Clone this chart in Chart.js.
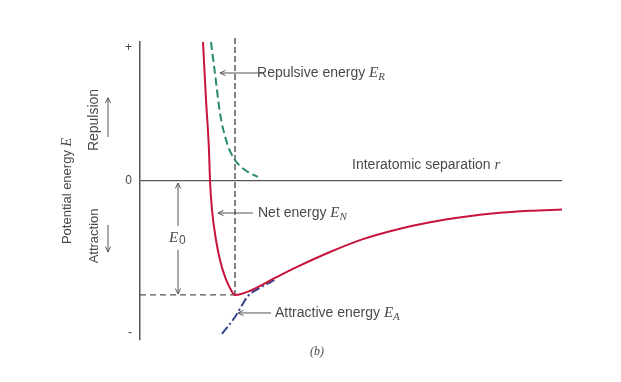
<!DOCTYPE html>
<html>
<head>
<meta charset="utf-8">
<script src="https://cdn.jsdelivr.net/npm/chart.js@4.4.1/dist/chart.umd.min.js"></script>
<style>
  html, body { margin: 0; padding: 0; background: #fff; }
</style>
</head>
<body>
<canvas id="energyChart" width="621" height="382"></canvas>
<script>
// separation r in units of r0, energy E in units of |E0|
const netR = [0.663, 0.695, 0.726, 0.737, 0.758, 0.80, 0.842, 0.895, 0.947, 1.0, 1.179, 1.421, 1.653, 2.0, 2.347, 2.705, 3.053, 3.40, 3.758, 4.105, 4.442];
const netE = [1.219, 0.711, 0.272, 0.0, -0.254, -0.518, -0.693, -0.842, -0.939, -1.0, -0.956, -0.851, -0.754, -0.623, -0.51, -0.425, -0.362, -0.316, -0.282, -0.262, -0.25];

const repR = [0.747, 0.789, 0.842, 0.916, 1.0, 1.105, 1.242];
const repE = [1.219, 0.947, 0.596, 0.333, 0.184, 0.096, 0.035];

const attR = [0.863, 1.0, 1.137, 1.242, 1.421];
const attE = [-1.342, -1.193, -1.009, -0.947, -0.868];

const r0 = 1.0;      // equilibrium spacing
const E0 = -1.0;     // bonding energy
const rMax = 4.442;
const eMin = -1.395;
const eMax = 1.219;
const eTop = 1.254;  // top of the r0 marker

const yTicks = [-1.333, 0, 1.167];
const yTickLabels = ['-', '0', '+'];

const pts = (xs, ys) => xs.map((v, i) => ({x: v, y: ys[i]}));

const SANS = '"Liberation Sans", Arial, sans-serif';
const SERIF = '"Liberation Serif", "Times New Roman", serif';

function arrowHead(ctx, x1, y1, x2, y2) {
    const a = Math.atan2(y2 - y1, x2 - x1);
    const len = 6;
    ctx.beginPath();
    ctx.moveTo(x2 - len * Math.cos(a - 0.45), y2 - len * Math.sin(a - 0.45));
    ctx.lineTo(x2, y2);
    ctx.lineTo(x2 - len * Math.cos(a + 0.45), y2 - len * Math.sin(a + 0.45));
    ctx.stroke();
}

function arrow(ctx, x1, y1, x2, y2) {
    ctx.beginPath();
    ctx.moveTo(x1, y1);
    ctx.lineTo(x2, y2);
    ctx.stroke();
    arrowHead(ctx, x1, y1, x2, y2);
}

// plain text followed by an italic E with optional subscript
function label(ctx, x, y, plain, sym, sub, size) {
    size = size || 14;
    ctx.textAlign = 'left';
    ctx.textBaseline = 'middle';
    ctx.font = size + 'px ' + SANS;
    ctx.fillText(plain, x, y);
    let cx = x + ctx.measureText(plain).width;
    if (sym) {
        ctx.font = 'italic ' + (size + 1) + 'px ' + SERIF;
        ctx.fillText(sym, cx, y);
        cx += ctx.measureText(sym).width;
    }
    if (sub) {
        ctx.font = 'italic ' + (size - 3) + 'px ' + SERIF;
        ctx.fillText(sub, cx, y + 4);
        cx += ctx.measureText(sub).width;
    }
    return cx - x;
}

function labelWidth(ctx, plain, sym, size) {
    ctx.font = size + 'px ' + SANS;
    let w = ctx.measureText(plain).width;
    if (sym) {
        ctx.font = 'italic ' + (size + 1) + 'px ' + SERIF;
        w += ctx.measureText(sym).width;
    }
    return w;
}

const annotations = {
    id: 'annotations',
    afterDatasetsDraw(chart) {
        const {ctx, chartArea} = chart;
        const px = v => chart.scales.x.getPixelForValue(v);
        const py = v => chart.scales.y.getPixelForValue(v);
        ctx.save();
        ctx.strokeStyle = '#555';
        ctx.fillStyle = '#4a4a4a';
        ctx.lineWidth = 1;

        arrow(ctx, px(1.284), py(0.947), px(0.842), py(0.947));
        label(ctx, px(1.232), py(0.947), 'Repulsive energy ', 'E', 'R');

        label(ctx, px(2.232), py(0.14), 'Interatomic separation ', 'r');

        arrow(ctx, px(1.19), py(-0.281), px(0.821), py(-0.281));
        label(ctx, px(1.242), py(-0.281), 'Net energy ', 'E', 'N');

        arrow(ctx, px(1.379), py(-1.158), px(1.032), py(-1.158));
        label(ctx, px(1.421), py(-1.158), 'Attractive energy ', 'E', 'A');

        // E0 double arrow
        const ax = px(0.4);
        const mid = py(-0.5);
        arrow(ctx, ax, mid - 12, ax, py(-0.018));
        arrow(ctx, ax, mid + 12, ax, py(E0) - 1);
        ctx.font = 'italic 15px ' + SERIF;
        ctx.textBaseline = 'middle';
        ctx.textAlign = 'left';
        ctx.fillText('E', ax - 9, mid);
        ctx.font = '12px ' + SANS;
        ctx.fillText('0', ax + 1, mid + 3);

        // (b)
        ctx.font = 'italic 12px ' + SERIF;
        ctx.textAlign = 'center';
        ctx.fillText('(b)', px(1.863), py(-1.5));

        // rotated axis labels
        const rot = (x, y, fn) => {
            ctx.save();
            ctx.translate(x, y);
            ctx.rotate(-Math.PI / 2);
            fn();
            ctx.restore();
        };
        const left = chartArea.left;
        rot(left - 73, py(-0.088), () => {
            const w = labelWidth(ctx, 'Potential energy ', 'E', 13);
            label(ctx, -w / 2, 0, 'Potential energy ', 'E', null, 13);
        });
        rot(left - 46, py(0.535), () => {
            const w = labelWidth(ctx, 'Repulsion', null, 14);
            label(ctx, -w / 2, 0, 'Repulsion', null, null, 14);
        });
        rot(left - 46, py(-0.482), () => {
            const w = labelWidth(ctx, 'Attraction', null, 13);
            label(ctx, -w / 2, 0, 'Attraction', null, null, 13);
        });
        arrow(ctx, left - 32, py(0.386), left - 32, py(0.73));
        arrow(ctx, left - 32, py(-0.386), left - 32, py(-0.623));

        ctx.restore();
    }
};

new Chart(document.getElementById('energyChart'), {
    type: 'line',
    data: {
        datasets: [
            {
                label: 'Net energy',
                data: pts(netR, netE),
                borderColor: '#c8143c',
                borderWidth: 2,
                cubicInterpolationMode: 'monotone'
            },
            {
                label: 'Repulsive energy',
                data: pts(repR, repE),
                borderColor: '#2a8c64',
                borderWidth: 2,
                borderDash: [8, 4],
                cubicInterpolationMode: 'monotone'
            },
            {
                label: 'Attractive energy',
                data: pts(attR, attE),
                borderColor: '#36448c',
                borderWidth: 2,
                borderDash: [9, 3, 2, 3],
                cubicInterpolationMode: 'monotone',
                clip: false
            },
            {
                label: 'r0',
                data: [{x: r0, y: eTop}, {x: r0, y: E0}],
                borderColor: '#333',
                borderWidth: 1.2,
                borderDash: [6, 3],
                clip: false
            },
            {
                label: 'E0',
                data: [{x: 0, y: E0}, {x: r0, y: E0}],
                borderColor: '#555',
                borderWidth: 1.2,
                borderDash: [6, 4]
            }
        ]
    },
    options: {
        responsive: false,
        animation: false,
        devicePixelRatio: 1,
        layout: { padding: {left: 100, top: 42, right: 59, bottom: 42} },
        elements: { point: { radius: 0 } },
        plugins: { legend: { display: false }, tooltip: { enabled: false } },
        scales: {
            x: { type: 'linear', min: 0, max: rMax, display: false },
            y: {
                min: eMin,
                max: eMax,
                afterFit(s) { s.width = 40; },
                afterBuildTicks(s) { s.ticks = yTicks.map(v => ({value: v})); },
                ticks: {
                    padding: 8,
                    color: '#444',
                    font: { size: 12, family: 'Liberation Sans' },
                    callback: (v, i) => yTickLabels[i]
                },
                grid: {
                    drawTicks: false,
                    lineWidth: 1.2,
                    color: c => (c.tick && c.tick.value === 0) ? '#555' : 'rgba(0,0,0,0)'
                },
                border: { color: '#555', width: 1.5 }
            }
        }
    },
    plugins: [annotations]
});
</script>
</body>
</html>
